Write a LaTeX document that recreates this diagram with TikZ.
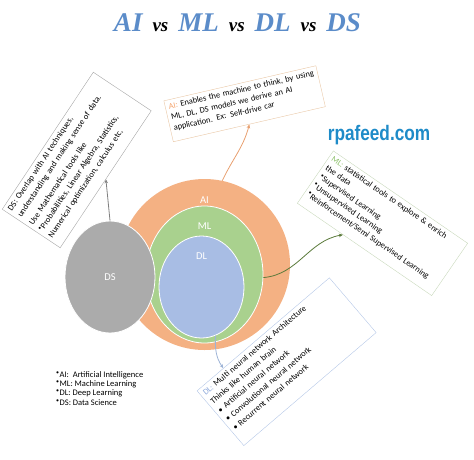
\documentclass[tikz,border=0pt]{standalone}
\usepackage{fontspec}
\setmainfont{Carlito}
\newfontfamily\ttlfont{Liberation Serif}
\newfontfamily\sitefont{Liberation Sans}
\usetikzlibrary{shapes.geometric,arrows.meta,calc}
\definecolor{aiorange}{HTML}{F4B183}
\definecolor{mlgreen}{HTML}{A9D18E}
\definecolor{dlblue}{HTML}{A8BDE4}
\definecolor{dsgray}{HTML}{ABABAB}
\definecolor{ttlblue}{HTML}{5B8CC9}
\definecolor{siteblue}{HTML}{1E8BC8}
\definecolor{aitag}{HTML}{F4A46E}
\definecolor{mltag}{HTML}{8CC06A}
\definecolor{dltag}{HTML}{8EA9DB}
\definecolor{dsedge}{HTML}{A6A6A6}
\definecolor{aiedge}{HTML}{E9C7A5}
\definecolor{mledge}{HTML}{C9D9BC}
\definecolor{dledge}{HTML}{B4C7E7}
\definecolor{dsline}{HTML}{7F7F7F}
\definecolor{ailine}{HTML}{E8A070}
\definecolor{mlline}{HTML}{5A7A3A}
\definecolor{dlline}{HTML}{9DB3D6}
\newcommand{\ttlword}[1]{{\fontsize{27}{30}\selectfont\ttlfont\bfseries\itshape\color{ttlblue}#1}}
\newcommand{\vsword}{{\fontsize{19}{22}\selectfont\ttlfont\bfseries\itshape vs}}
\newcommand{\smdot}{\textsuperscript{•}}
\begin{document}
\begin{tikzpicture}[x=1pt,y=1pt,
  boxtext/.style={anchor=north west,inner sep=3.5pt,align=left,font=\fontsize{8.4}{11}\selectfont},
  circtext/.style={text=white,font=\fontsize{10.5}{12}\selectfont},
  arr/.style={line width=0.8pt,-{Stealth[length=4pt,width=3.5pt]}}]
\useasboundingbox (0,0) rectangle (474,-459);
\node[anchor=base] (title) at (237.5,-31.7) {\ttlword{AI}\hspace{10pt}\vsword\hspace{10pt}\ttlword{ML}\hspace{10pt}\vsword\hspace{10pt}\ttlword{DL}\hspace{10pt}\vsword\hspace{10pt}\ttlword{DS}};
\node[anchor=base,text=siteblue,font=\sitefont\bfseries\fontsize{21}{24}\selectfont,xscale=0.82] (site) at (379,-140.7) {rpafeed.com};
\node[circle,fill=aiorange,minimum size=171pt,inner sep=0] (ai) at (204.5,-264.5) {};
\node[ellipse,fill=mlgreen,draw=white,line width=0.8pt,minimum width=117pt,minimum height=137pt,inner sep=0] (ml) at (204.5,-274.5) {};
\node[ellipse,fill=dlblue,draw=white,line width=0.8pt,minimum width=85pt,minimum height=102pt,inner sep=0] (dl) at (201.5,-287) {};
\foreach \c/\t in {ai/AI,ml/ML,dl/DL}
  \node[circtext] (\c lab) at ([yshift=-21pt]\c.north) {\t};
\node[ellipse,fill=dsgray,draw=white,line width=0.8pt,minimum width=90pt,minimum height=112pt,inner sep=0,circtext] (ds) at (110,-277) {DS};
\node[draw=dsedge,rotate=56.4,minimum width=164.5pt,minimum height=69.6pt] (dsbox) at (76.75,-160) {};
\node[boxtext,rotate=56.4,text width=158pt,font=\fontsize{8.4}{11.5}\selectfont] (dstext) at (dsbox.north west) {DS: Overlap with AI techniques,\\ understanding and making sense of data.\\[2.5pt] Use Mathematical tools like\\ \smdot Probabilities, Linear Algebra, Statistics,\\ Numerical optimization, calculus etc,};
\node[draw=aiedge,rotate=13,minimum width=156pt,minimum height=42pt] (aibox) at (244.6,-103.75) {};
\node[boxtext,rotate=13,text width=150pt] (aitext) at (aibox.north west) {\textcolor{aitag}{AI:} Enables the machine to think, by using\\ ML, DL, DS models we derive an AI\\ application. Ex: Self-drive car};
\node[draw=mledge,rotate=-34.5,minimum width=163pt,minimum height=63.5pt] (mlbox) at (382.5,-223.25) {};
\node[boxtext,rotate=-34.5,text width=157pt,font=\fontsize{8.4}{10.8}\selectfont] (mltext) at (mlbox.north west) {\textcolor{mltag}{ML:} statistical tools to explore \& enrich\\ the data\\ \smdot Supervised Learning\\ \smdot Unsupervised Learning\\ \smdot Reinforcement/Semi Supervised Learning};
\node[draw=dledge,rotate=40.5,minimum width=174pt,minimum height=72pt] (dlbox) at (286.6,-361.7) {};
\node[boxtext,rotate=40.5,text width=167pt,font=\fontsize{8.4}{11.5}\selectfont] (dltext) at (dlbox.north west) {\textcolor{dltag}{DL:} Multi neural network Architecture\\ Thinks like human brain\\ • Artificial neural network\\ • Convolutional neural network\\ • Recurrent neural network};
\node[anchor=north west,inner sep=0,align=left,font=\fontsize{8.5}{9.3}\selectfont] (legend) at (56,-371) {\smdot AI: \ Artificial Intelligence\\ \smdot ML: Machine Learning\\ \smdot DL: Deep Learning\\ \smdot DS: Data Science};
\coordinate (mltip) at ($(mlbox.south west)!0.34!(mlbox.south east)$);
\coordinate (dltip) at ($(dlbox.north west)!0.2!(dlbox.north east)$);
\draw[arr,dsline] (ds.north) -- (dsbox.south);
\draw[arr,ailine] (ai.78) to[out=65,in=-105] (aibox.south);
\draw[arr,mlline] (ml.-3) to[out=5,in=190] (mltip);
\draw[arr,dlline] (dl.-74) to[out=-92,in=125] (dltip);
\end{tikzpicture}
\end{document}
